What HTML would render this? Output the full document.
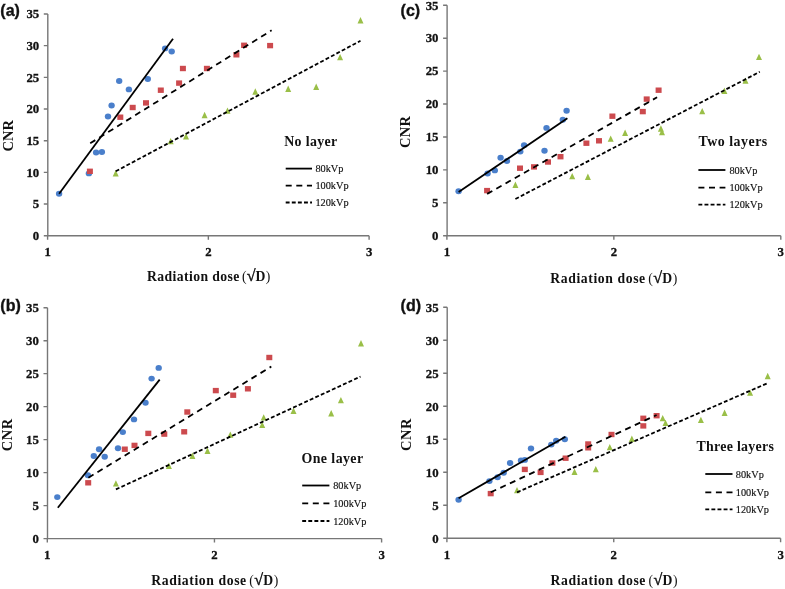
<!DOCTYPE html>
<html><head><meta charset="utf-8"><title>CNR vs Radiation dose</title><style>
html,body{margin:0;padding:0;background:#fff;}
svg{display:block;}
.ax{stroke:#777;stroke-width:1.4;fill:none;}
.ls{stroke:#000;stroke-width:1.8;fill:none;}
.ld{stroke:#000;stroke-width:1.8;fill:none;stroke-dasharray:6 4.6;}
.lt{stroke:#000;stroke-width:1.8;fill:none;stroke-dasharray:3.9 2.2;}
.mb{fill:#4a7fcb;}
.mr{fill:#cc4a4e;}
.mg{fill:#9abf48;}
text{font-family:"Liberation Serif",serif;fill:#111;}
.tk{font-size:13.5px;font-weight:bold;stroke:#111;stroke-width:0.3px;}
.cn{font-size:14.5px;font-weight:bold;}
.xl{font-size:14.6px;font-weight:bold;}
.nm{font-size:13.9px;font-weight:bold;}
.lg{font-size:10.3px;fill:#111;stroke:#111;stroke-width:0.15px;}
.np{font-weight:normal;}
.sq{font-size:16px;stroke:#111;stroke-width:0.45px;}
.pl{font-family:"Liberation Sans",sans-serif;font-size:16px;font-weight:bold;stroke:#111;stroke-width:0.35px;}
</style></head>
<body><svg width="785" height="589" viewBox="0 0 785 589">
<g id="pa"><path d="M47.8 14V235.7H369.1" class="ax"/><path d="M43.8 14H47.8M43.8 45.67H47.8M43.8 77.34H47.8M43.8 109.01H47.8M43.8 140.69H47.8M43.8 172.36H47.8M43.8 204.03H47.8M43.8 235.7H47.8M47.6 235.7V239.7M208.35 235.7V239.7M369.1 235.7V239.7" class="ax"/><text transform="translate(39.2 18.2) scale(0.95 1)" class="tk" text-anchor="end">35</text><text transform="translate(39.2 49.87) scale(0.95 1)" class="tk" text-anchor="end">30</text><text transform="translate(39.2 81.54) scale(0.95 1)" class="tk" text-anchor="end">25</text><text transform="translate(39.2 113.21) scale(0.95 1)" class="tk" text-anchor="end">20</text><text transform="translate(39.2 144.89) scale(0.95 1)" class="tk" text-anchor="end">15</text><text transform="translate(39.2 176.56) scale(0.95 1)" class="tk" text-anchor="end">10</text><text transform="translate(39.2 208.23) scale(0.95 1)" class="tk" text-anchor="end">5</text><text transform="translate(39.2 239.9) scale(0.95 1)" class="tk" text-anchor="end">0</text><text transform="translate(47.6 256.3) scale(0.95 1)" class="tk" text-anchor="middle">1</text><text transform="translate(208.35 256.3) scale(0.95 1)" class="tk" text-anchor="middle">2</text><text transform="translate(369.1 256.3) scale(0.95 1)" class="tk" text-anchor="middle">3</text><ellipse cx="59.1" cy="193.8" rx="3.2" ry="2.95" class="mb"/><ellipse cx="88.9" cy="173.4" rx="3.2" ry="2.95" class="mb"/><ellipse cx="96.1" cy="152.5" rx="3.2" ry="2.95" class="mb"/><ellipse cx="101.9" cy="152" rx="3.2" ry="2.95" class="mb"/><ellipse cx="108" cy="116.5" rx="3.2" ry="2.95" class="mb"/><ellipse cx="111.6" cy="105.5" rx="3.2" ry="2.95" class="mb"/><ellipse cx="119.2" cy="81" rx="3.2" ry="2.95" class="mb"/><ellipse cx="128.9" cy="89.4" rx="3.2" ry="2.95" class="mb"/><ellipse cx="147.8" cy="79" rx="3.2" ry="2.95" class="mb"/><ellipse cx="165.1" cy="48.4" rx="3.2" ry="2.95" class="mb"/><ellipse cx="171.7" cy="51.5" rx="3.2" ry="2.95" class="mb"/><rect x="86.9" y="168.6" width="6" height="5.4" class="mr"/><rect x="117.3" y="114.5" width="6" height="5.4" class="mr"/><rect x="129.7" y="104.8" width="6" height="5.4" class="mr"/><rect x="143" y="100.2" width="6" height="5.4" class="mr"/><rect x="157.8" y="87.5" width="6" height="5.4" class="mr"/><rect x="176.1" y="80.4" width="6" height="5.4" class="mr"/><rect x="179.9" y="65.8" width="6" height="5.4" class="mr"/><rect x="203.9" y="65.8" width="6" height="5.4" class="mr"/><rect x="233.4" y="52.1" width="6" height="5.4" class="mr"/><rect x="241.1" y="42.6" width="6" height="5.4" class="mr"/><rect x="267.1" y="42.9" width="6" height="5.4" class="mr"/><path d="M115.7 170L118.7 176.4H112.7ZM170.7 137.9L173.7 144.3H167.7ZM186 133L189 139.4H183ZM204.6 111.8L207.6 118.2H201.6ZM227.5 107.4L230.5 113.8H224.5ZM255.3 88.3L258.3 94.7H252.3ZM288.2 85.5L291.2 91.9H285.2ZM316.2 83.5L319.2 89.9H313.2ZM340.1 53.9L343.1 60.3H337.1ZM360.5 17L363.5 23.4H357.5Z" class="mg"/><path d="M59.1 193.8L173 38.7" class="ls"/><path d="M90.2 143.3L271.6 30.3" class="ld"/><path d="M115.7 171.3L360.5 40.8" class="lt"/><path d="M285.7 168.6H312" class="ls"/><path d="M285.7 185.7H312" class="ld"/><path d="M285.7 202.5H312" class="lt"/><text x="315.4" y="172.2" class="lg">80kVp</text><text x="315.4" y="189.3" class="lg">100kVp</text><text x="315.4" y="206.1" class="lg">120kVp</text><text x="284.2" y="146" class="nm" style="letter-spacing:0.36px">No layer</text><text x="147" y="280.5" class="xl" style="font-size:13.7px;letter-spacing:0.4px">Radiation dose <tspan class="np" dx="-1.6">(</tspan><tspan class="sq" dx="-0.2">√</tspan><tspan dx="-0.4">D</tspan><tspan class="np">)</tspan></text><text transform="translate(12.6 135.7) rotate(-90)" class="cn" text-anchor="middle" style="letter-spacing:0px">CNR</text><text x="0.3" y="16.3" class="pl">(a)</text></g>
<g id="pb"><path d="M47.5 307.7V538.6H381.6" class="ax"/><path d="M43.5 307.7H47.5M43.5 340.69H47.5M43.5 373.67H47.5M43.5 406.66H47.5M43.5 439.64H47.5M43.5 472.63H47.5M43.5 505.61H47.5M43.5 538.6H47.5M47.3 538.6V542.6M214.45 538.6V542.6M381.6 538.6V542.6" class="ax"/><text transform="translate(38.9 311.9) scale(0.95 1)" class="tk" text-anchor="end">35</text><text transform="translate(38.9 344.89) scale(0.95 1)" class="tk" text-anchor="end">30</text><text transform="translate(38.9 377.87) scale(0.95 1)" class="tk" text-anchor="end">25</text><text transform="translate(38.9 410.86) scale(0.95 1)" class="tk" text-anchor="end">20</text><text transform="translate(38.9 443.84) scale(0.95 1)" class="tk" text-anchor="end">15</text><text transform="translate(38.9 476.83) scale(0.95 1)" class="tk" text-anchor="end">10</text><text transform="translate(38.9 509.81) scale(0.95 1)" class="tk" text-anchor="end">5</text><text transform="translate(38.9 542.8) scale(0.95 1)" class="tk" text-anchor="end">0</text><text transform="translate(47.3 559.2) scale(0.95 1)" class="tk" text-anchor="middle">1</text><text transform="translate(214.45 559.2) scale(0.95 1)" class="tk" text-anchor="middle">2</text><text transform="translate(381.6 559.2) scale(0.95 1)" class="tk" text-anchor="middle">3</text><ellipse cx="57.3" cy="497.1" rx="3.2" ry="2.95" class="mb"/><ellipse cx="87.9" cy="475.2" rx="3.2" ry="2.95" class="mb"/><ellipse cx="93.8" cy="456" rx="3.2" ry="2.95" class="mb"/><ellipse cx="99.1" cy="449.2" rx="3.2" ry="2.95" class="mb"/><ellipse cx="104.7" cy="456.8" rx="3.2" ry="2.95" class="mb"/><ellipse cx="118" cy="448.2" rx="3.2" ry="2.95" class="mb"/><ellipse cx="122.8" cy="432.1" rx="3.2" ry="2.95" class="mb"/><ellipse cx="134" cy="419.4" rx="3.2" ry="2.95" class="mb"/><ellipse cx="145.5" cy="402.8" rx="3.2" ry="2.95" class="mb"/><ellipse cx="151.6" cy="378.6" rx="3.2" ry="2.95" class="mb"/><ellipse cx="158.7" cy="367.9" rx="3.2" ry="2.95" class="mb"/><rect x="85.2" y="480.1" width="6" height="5.4" class="mr"/><rect x="121.8" y="446.5" width="6" height="5.4" class="mr"/><rect x="131.5" y="442.7" width="6" height="5.4" class="mr"/><rect x="145.3" y="430.7" width="6" height="5.4" class="mr"/><rect x="161.3" y="431.4" width="6" height="5.4" class="mr"/><rect x="181.2" y="429.1" width="6" height="5.4" class="mr"/><rect x="184.3" y="409.3" width="6" height="5.4" class="mr"/><rect x="212.8" y="387.9" width="6" height="5.4" class="mr"/><rect x="230.2" y="392.5" width="6" height="5.4" class="mr"/><rect x="244.9" y="386.1" width="6" height="5.4" class="mr"/><rect x="266.3" y="354.8" width="6" height="5.4" class="mr"/><path d="M115.9 480.2L118.9 486.6H112.9ZM168.9 462.6L171.9 469H165.9ZM192.4 452.6L195.4 459H189.4ZM207.5 447.6L210.5 454H204.5ZM230.3 431.4L233.3 437.8H227.3ZM262.2 421.6L265.2 428H259.2ZM263.7 414.2L266.7 420.6H260.7ZM293.5 407.6L296.5 414H290.5ZM331.2 410.1L334.2 416.5H328.2ZM340.9 396.9L343.9 403.3H337.9ZM361 340L364 346.4H358Z" class="mg"/><path d="M57.8 507.8L159.7 379.6" class="ls"/><path d="M88.4 477.7L271.3 366.6" class="ld"/><path d="M115.9 489.4L360.5 376.6" class="lt"/><path d="M302.2 485.5H329.4" class="ls"/><path d="M302.2 503.4H329.4" class="ld"/><path d="M302.2 521H329.4" class="lt"/><text x="333.2" y="489.1" class="lg">80kVp</text><text x="333.2" y="507" class="lg">100kVp</text><text x="333.2" y="524.6" class="lg">120kVp</text><text x="301.5" y="462.9" class="nm" style="letter-spacing:0.42px">One layer</text><text x="151.3" y="585" class="xl" style="font-size:13.7px;letter-spacing:0.6px">Radiation dose <tspan class="np" dx="-1.6">(</tspan><tspan class="sq" dx="-0.2">√</tspan><tspan dx="-0.4">D</tspan><tspan class="np">)</tspan></text><text transform="translate(11.7 434.85) rotate(-90)" class="cn" text-anchor="middle" style="letter-spacing:0.5px">CNR</text><text x="0.3" y="310.6" class="pl">(b)</text></g>
<g id="pc"><path d="M447.1 5.3V235.7H780.8" class="ax"/><path d="M443.1 5.3H447.1M443.1 38.21H447.1M443.1 71.13H447.1M443.1 104.04H447.1M443.1 136.96H447.1M443.1 169.87H447.1M443.1 202.79H447.1M443.1 235.7H447.1M446.9 235.7V239.7M613.85 235.7V239.7M780.8 235.7V239.7" class="ax"/><text transform="translate(438.5 9.5) scale(0.95 1)" class="tk" text-anchor="end">35</text><text transform="translate(438.5 42.41) scale(0.95 1)" class="tk" text-anchor="end">30</text><text transform="translate(438.5 75.33) scale(0.95 1)" class="tk" text-anchor="end">25</text><text transform="translate(438.5 108.24) scale(0.95 1)" class="tk" text-anchor="end">20</text><text transform="translate(438.5 141.16) scale(0.95 1)" class="tk" text-anchor="end">15</text><text transform="translate(438.5 174.07) scale(0.95 1)" class="tk" text-anchor="end">10</text><text transform="translate(438.5 206.99) scale(0.95 1)" class="tk" text-anchor="end">5</text><text transform="translate(438.5 239.9) scale(0.95 1)" class="tk" text-anchor="end">0</text><text transform="translate(446.9 256.3) scale(0.95 1)" class="tk" text-anchor="middle">1</text><text transform="translate(613.85 256.3) scale(0.95 1)" class="tk" text-anchor="middle">2</text><text transform="translate(780.8 256.3) scale(0.95 1)" class="tk" text-anchor="middle">3</text><ellipse cx="458.6" cy="191.3" rx="3.2" ry="2.95" class="mb"/><ellipse cx="487.6" cy="173.5" rx="3.2" ry="2.95" class="mb"/><ellipse cx="494.8" cy="170.4" rx="3.2" ry="2.95" class="mb"/><ellipse cx="500.6" cy="157.7" rx="3.2" ry="2.95" class="mb"/><ellipse cx="507" cy="161" rx="3.2" ry="2.95" class="mb"/><ellipse cx="520.3" cy="151.6" rx="3.2" ry="2.95" class="mb"/><ellipse cx="524.1" cy="145.2" rx="3.2" ry="2.95" class="mb"/><ellipse cx="544.5" cy="150.8" rx="3.2" ry="2.95" class="mb"/><ellipse cx="546.5" cy="127.9" rx="3.2" ry="2.95" class="mb"/><ellipse cx="562.8" cy="119.7" rx="3.2" ry="2.95" class="mb"/><ellipse cx="566.6" cy="110.8" rx="3.2" ry="2.95" class="mb"/><rect x="484.1" y="187.9" width="6" height="5.4" class="mr"/><rect x="517" y="165.5" width="6" height="5.4" class="mr"/><rect x="531" y="164.2" width="6" height="5.4" class="mr"/><rect x="545" y="159.3" width="6" height="5.4" class="mr"/><rect x="557.5" y="154" width="6" height="5.4" class="mr"/><rect x="583.4" y="140.5" width="6" height="5.4" class="mr"/><rect x="596" y="138.1" width="6" height="5.4" class="mr"/><rect x="609.4" y="113.5" width="6" height="5.4" class="mr"/><rect x="639.8" y="108.9" width="6" height="5.4" class="mr"/><rect x="643.7" y="96.4" width="6" height="5.4" class="mr"/><rect x="655.6" y="87.5" width="6" height="5.4" class="mr"/><path d="M515.4 181.6L518.4 188H512.4ZM572.2 172.9L575.2 179.3H569.2ZM587.9 173.6L590.9 180H584.9ZM610.7 135.4L613.7 141.8H607.7ZM625.1 129.6L628.1 136H622.1ZM660.9 125.3L663.9 131.7H657.9ZM662 128.8L665 135.2H659ZM702.2 107.9L705.2 114.3H699.2ZM724.4 87.6L727.4 94H721.4ZM745.5 77.4L748.5 83.8H742.5ZM759 53.7L762 60.1H756Z" class="mg"/><path d="M458.6 192.1L567.4 118.2" class="ls"/><path d="M487.1 193.9L657.1 97.3" class="ld"/><path d="M515.4 199L759.8 71.8" class="lt"/><path d="M698.4 170H725.4" class="ls"/><path d="M698.4 187.6H725.4" class="ld"/><path d="M698.4 204.7H725.4" class="lt"/><text x="729.4" y="173.6" class="lg">80kVp</text><text x="729.4" y="191.2" class="lg">100kVp</text><text x="729.4" y="208.3" class="lg">120kVp</text><text x="698.4" y="146.4" class="nm" style="letter-spacing:0.52px">Two layers</text><text x="550.3" y="282.5" class="xl" style="font-size:13.7px;letter-spacing:0.6px">Radiation dose <tspan class="np" dx="-1.6">(</tspan><tspan class="sq" dx="-0.2">√</tspan><tspan dx="-0.4">D</tspan><tspan class="np">)</tspan></text><text transform="translate(410.2 131.95) rotate(-90)" class="cn" text-anchor="middle" style="letter-spacing:0.3px">CNR</text><text x="400.6" y="16.3" class="pl">(c)</text></g>
<g id="pd"><path d="M447.2 307.3V538.3H780.6" class="ax"/><path d="M443.2 307.3H447.2M443.2 340.3H447.2M443.2 373.3H447.2M443.2 406.3H447.2M443.2 439.3H447.2M443.2 472.3H447.2M443.2 505.3H447.2M443.2 538.3H447.2M446.9 538.3V542.3M613.75 538.3V542.3M780.6 538.3V542.3" class="ax"/><text transform="translate(438.6 311.5) scale(0.95 1)" class="tk" text-anchor="end">35</text><text transform="translate(438.6 344.5) scale(0.95 1)" class="tk" text-anchor="end">30</text><text transform="translate(438.6 377.5) scale(0.95 1)" class="tk" text-anchor="end">25</text><text transform="translate(438.6 410.5) scale(0.95 1)" class="tk" text-anchor="end">20</text><text transform="translate(438.6 443.5) scale(0.95 1)" class="tk" text-anchor="end">15</text><text transform="translate(438.6 476.5) scale(0.95 1)" class="tk" text-anchor="end">10</text><text transform="translate(438.6 509.5) scale(0.95 1)" class="tk" text-anchor="end">5</text><text transform="translate(438.6 542.5) scale(0.95 1)" class="tk" text-anchor="end">0</text><text transform="translate(446.9 558.9) scale(0.95 1)" class="tk" text-anchor="middle">1</text><text transform="translate(613.75 558.9) scale(0.95 1)" class="tk" text-anchor="middle">2</text><text transform="translate(780.6 558.9) scale(0.95 1)" class="tk" text-anchor="middle">3</text><ellipse cx="458.6" cy="499.7" rx="3.2" ry="2.95" class="mb"/><ellipse cx="489.4" cy="481.1" rx="3.2" ry="2.95" class="mb"/><ellipse cx="497.6" cy="477.3" rx="3.2" ry="2.95" class="mb"/><ellipse cx="503.7" cy="472.7" rx="3.2" ry="2.95" class="mb"/><ellipse cx="510.1" cy="463" rx="3.2" ry="2.95" class="mb"/><ellipse cx="521" cy="460.4" rx="3.2" ry="2.95" class="mb"/><ellipse cx="524.8" cy="459.9" rx="3.2" ry="2.95" class="mb"/><ellipse cx="531" cy="448.5" rx="3.2" ry="2.95" class="mb"/><ellipse cx="551.3" cy="444.6" rx="3.2" ry="2.95" class="mb"/><ellipse cx="556.2" cy="440.8" rx="3.2" ry="2.95" class="mb"/><ellipse cx="564.8" cy="439.3" rx="3.2" ry="2.95" class="mb"/><rect x="487.7" y="490.9" width="6" height="5.4" class="mr"/><rect x="521.8" y="466.7" width="6" height="5.4" class="mr"/><rect x="537.6" y="469.7" width="6" height="5.4" class="mr"/><rect x="549.4" y="460.3" width="6" height="5.4" class="mr"/><rect x="562.6" y="455.5" width="6" height="5.4" class="mr"/><rect x="585.2" y="441.3" width="6" height="5.4" class="mr"/><rect x="585.2" y="445.1" width="6" height="5.4" class="mr"/><rect x="608.5" y="431.8" width="6" height="5.4" class="mr"/><rect x="640.3" y="415.6" width="6" height="5.4" class="mr"/><rect x="640.3" y="423.2" width="6" height="5.4" class="mr"/><rect x="653.6" y="413" width="6" height="5.4" class="mr"/><path d="M517 486.9L520 493.3H514ZM574.5 468.5L577.5 474.9H571.5ZM595.8 465.9L598.8 472.3H592.8ZM609.8 443.9L612.8 450.3H606.8ZM631.85 435.6L634.85 442H628.85ZM662.7 414.9L665.7 421.3H659.7ZM665.5 419.7L668.5 426.1H662.5ZM700.9 416.7L703.9 423.1H697.9ZM724.6 409.5L727.6 415.9H721.6ZM750.1 389.4L753.1 395.8H747.1ZM767.7 372.8L770.7 379.2H764.7Z" class="mg"/><path d="M458.6 498.2L565.4 436.8" class="ls"/><path d="M490.7 492.3L656.6 415" class="ld"/><path d="M517 492.3L767.7 383.1" class="lt"/><path d="M705.3 474H732.5" class="ls"/><path d="M705.3 492.3H732.5" class="ld"/><path d="M705.3 509.4H732.5" class="lt"/><text x="735.8" y="477.6" class="lg">80kVp</text><text x="735.8" y="495.9" class="lg">100kVp</text><text x="735.8" y="513" class="lg">120kVp</text><text x="696.4" y="450.6" class="nm" style="letter-spacing:0.3px">Three layers</text><text x="550.5" y="584.6" class="xl" style="font-size:13.7px;letter-spacing:0.6px">Radiation dose <tspan class="np" dx="-1.6">(</tspan><tspan class="sq" dx="-0.2">√</tspan><tspan dx="-0.4">D</tspan><tspan class="np">)</tspan></text><text transform="translate(410.6 434.45) rotate(-90)" class="cn" text-anchor="middle" style="letter-spacing:0.5px">CNR</text><text x="400.6" y="310.8" class="pl">(d)</text></g>
</svg></body></html>
